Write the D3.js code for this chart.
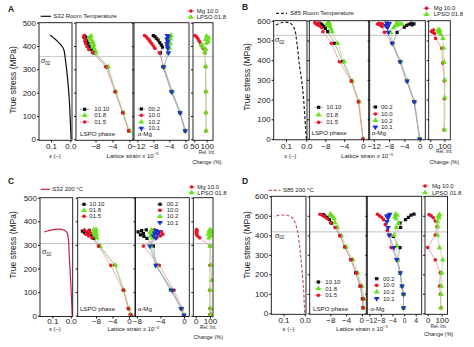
<!DOCTYPE html>
<html lang="en">
<head>
<meta charset="UTF-8">
<title>True stress vs lattice strain</title>
<script src="https://d3js.org/d3.v7.min.js"></script>
<style>
  body { margin: 0; background: #fff; }
  svg { display: block; font-family: "Liberation Sans", Arial, sans-serif; }
</style>
</head>
<body>
<div id="chart"></div>
<script>
// Data. Pairs are [x value, true stress (MPa)].

// ---- A: S32 room temperature ----
const aCurve = [[-0.004,0],[0.0,80],[0.005,168],[0.014,260],[0.024,333],[0.033,383],[0.041,397],[0.055,410],[0.07,423],[0.09,437],[0.105,447]];
const aLspo1010 = [[-0.1,36],[-1.5,114],[-3.3,204],[-5.2,311],[-8.4,371],[-8.9,385],[-9.5,398],[-9.7,410],[-10.0,420],[-10.2,430],[-10.3,438],[-10.6,445]];
const aLspo018 = [[0.0,36],[-1.4,114],[-3.2,204],[-5.0,311],[-7.9,371],[-8.2,385],[-8.6,395],[-8.4,405],[-9.0,412],[-8.7,420],[-9.2,428],[-9.5,436],[-9.0,442]];
const aLspo015 = [[-0.2,36],[-1.6,114],[-3.4,204],[-5.6,311],[-8.7,371],[-9.6,385],[-10.0,398],[-10.3,410],[-10.5,420],[-10.4,428],[-10.8,436],[-10.7,445]];
const aMg002 = [[-0.1,36],[-1.4,114],[-3.5,204],[-5.6,311],[-6.2,371],[-5.7,395],[-6.0,405],[-6.4,415],[-6.8,425],[-7.2,433],[-7.6,440],[-8.0,445]];
const aMg100 = [[0.0,36],[-1.3,114],[-3.3,204],[-5.4,311],[-6.5,371],[-7.6,390],[-8.0,400],[-8.4,410],[-8.8,418],[-9.0,425],[-9.4,432],[-9.8,440],[-10.2,445]];
const aMg102 = [[0.0,36],[-1.2,114],[-3.2,204],[-5.3,311],[-4.3,371],[-4.0,390],[-4.2,400],[-3.8,410],[-4.1,420],[-3.7,430],[-3.9,438],[-3.6,445]];
const aMg101 = [[0.0,36],[-1.3,114],[-3.4,204],[-5.4,311],[-4.2,371],[-4.4,390],[-4.5,400],[-4.6,410],[-4.4,420],[-4.6,430],[-4.3,438],[-4.5,445]];
const aRelMg = [[97,36],[97,114],[96,204],[95,311],[93,371],[86,390],[80,400],[76,410],[70,420],[65,430],[60,438],[53,445]];
const aRelLpso = [[98,36],[97,114],[98,204],[97,311],[92,371],[96,385],[85,395],[78,405],[100,412],[106,420],[96,428],[108,435],[99,442]];

// ---- B: S85 room temperature ----
const bCurve = [[0,0],[0.004,60],[0.013,198],[0.022,290],[0.033,367],[0.046,485],[0.059,561],[0.079,587],[0.113,592],[0.15,578]];
const bLspo1010 = [[0,0],[-0.9,189],[-2.4,294],[-4.3,392],[-6.0,485],[-7.5,544],[-8.0,560],[-8.3,570],[-8.6,578],[-8.9,583],[-9.2,586]];
const bLspo018 = [[0,0],[-0.8,189],[-2.3,294],[-4.0,392],[-5.4,485],[-6.6,544],[-6.8,560],[-7.0,570],[-7.4,576],[-7.1,582],[-7.6,586],[-7.2,590]];
const bLspo015 = [[0,0],[-1.0,189],[-2.5,294],[-5.0,392],[-6.7,485],[-8.5,544],[-8.8,565],[-9.3,575],[-9.7,580],[-10.0,585],[-9.5,588],[-10.2,590]];
const bMg002 = [[0,0],[-1.4,189],[-3.3,294],[-5.0,392],[-7.0,485],[-5.9,541],[-4.0,568],[-3.4,576],[-2.8,582],[-2.2,586],[-1.5,584],[-2.0,579]];
const bMg100 = [[0,0],[-1.5,189],[-3.4,294],[-5.2,392],[-7.2,485],[-9.2,541],[-9.8,570],[-10.4,578],[-11.0,583],[-10.6,587],[-9.8,586],[-10.2,580]];
const bMg102 = [[0,0],[-1.3,189],[-3.2,294],[-5.0,392],[-7.0,485],[-7.6,541],[-6.8,565],[-6.3,575],[-5.8,580],[-5.2,585],[-4.6,583],[-6.0,588]];
const bMg101 = [[0,0],[-1.4,189],[-3.3,294],[-5.1,392],[-7.2,485],[-8.2,541],[-8.4,565],[-8.9,575],[-8.3,580],[-7.9,585],[-8.6,588]];
const bRelMg = [[98,46],[100,205],[100,295],[88,385],[82,460],[38,510],[30,535],[18,540],[8,545],[14,550],[24,553]];
const bRelLpso = [[102,46],[104,210],[103,300],[98,390],[95,462],[90,510],[75,530],[62,540],[58,548],[68,552],[56,555]];

// ---- C: S32 200 °C ----
const cCurve = [[-0.008,0],[-0.002,114],[0.008,256],[0.013,326],[0.022,355],[0.049,366],[0.085,366],[0.122,360],[0.143,355]];
const cLspo1010 = [[0.3,4],[-0.1,30],[-1.3,108],[-3.4,213],[-7.2,295],[-8.5,328],[-8.2,336],[-9.2,342],[-10.0,348],[-10.8,352],[-11.3,358],[-9.6,362]];
const cLspo018 = [[0.4,4],[0.0,30],[-1.2,108],[-3.3,213],[-7.0,295],[-7.8,330],[-8.3,338],[-7.9,345],[-8.5,352],[-8.1,358],[-8.6,363],[-8.0,366]];
const cLspo015 = [[0.5,4],[-0.2,30],[-1.4,108],[-4.4,213],[-7.4,295],[-9.0,330],[-9.8,338],[-10.5,345],[-9.4,350],[-10.2,355],[-9.6,360],[-10.8,363]];
const cMg002 = [[0,2],[-0.4,30],[-2.3,108],[-4.7,213],[-5.2,295],[-6.3,328],[-6.8,336],[-7.4,342],[-6.9,348],[-7.8,355],[-7.2,360],[-6.4,364]];
const cMg100 = [[0,2],[-0.3,30],[-1.7,108],[-4.2,213],[-6.9,295],[-4.6,330],[-4.0,338],[-3.6,345],[-4.3,350],[-3.8,355],[-4.6,360],[-5.0,364]];
const cMg102 = [[0,2],[-0.4,30],[-2.1,108],[-4.6,213],[-5.6,295],[-5.4,330],[-5.7,338],[-5.2,345],[-5.8,352],[-5.3,358],[-5.5,363]];
const cMg101 = [[0,2],[-0.5,30],[-2.0,108],[-4.8,213],[-5.8,295],[-4.8,330],[-5.2,338],[-4.5,345],[-5.0,350],[-4.3,356],[-4.8,361]];
const cRelMg = [[100,5],[100,30],[98,108],[100,213],[100,295],[28,330],[12,338],[5,345],[8,350],[3,355],[10,360],[6,365]];
const cRelLpso = [[108,5],[106,30],[103,108],[112,150],[108,213],[100,295],[92,330],[104,338],[88,345],[100,350],[110,355],[94,360],[102,365]];

// ---- D: S85 200 °C ----
const dCurve = [[0,3],[0.006,130],[0.02,300],[0.035,427],[0.055,486],[0.07,498],[0.088,503],[0.121,503],[0.145,495]];
const dLspo1010 = [[0.2,28],[0.1,74],[-0.5,139],[-1.6,207],[-2.8,275],[-4.3,340],[-5.5,398],[-6.6,440],[-7.7,462],[-8.2,480],[-8.8,492],[-9.4,500],[-9.8,506]];
const dLspo018 = [[0.4,28],[0.5,74],[0.0,139],[-1.1,207],[-2.3,275],[-4.0,340],[-5.2,398],[-6.2,440],[-6.8,465],[-7.0,485],[-7.4,495],[-7.8,502],[-8.0,508]];
const dLspo015 = [[0.3,28],[0.3,74],[-0.3,139],[-1.4,207],[-2.7,275],[-4.4,340],[-5.6,398],[-6.8,440],[-7.9,465],[-8.8,485],[-9.5,495],[-10.0,503],[-10.6,508]];
const dMg002 = [[-0.2,28],[-0.2,97],[-0.8,139],[-1.3,207],[-2.2,274],[-1.4,337],[-3.7,394],[-1.2,440],[-1.4,462],[0.5,480],[1.5,492],[2.4,503],[3.4,508]];
const dMg100 = [[-0.2,28],[-0.2,97],[-0.8,139],[-1.4,207],[-2.3,274],[-4.5,337],[-4.8,401],[-5.8,425],[-6.5,455],[-7.1,480],[-7.8,492],[-8.5,500],[-9.2,508]];
const dMg102 = [[-0.2,28],[-0.2,97],[-0.8,139],[-1.4,207],[-2.3,274],[-2.6,344],[-3.5,401],[-2.7,440],[-2.0,462],[-2.8,485],[-3.2,495],[-2.4,503],[-3.0,508]];
const dMg101 = [[-0.2,28],[-0.2,97],[-0.7,139],[-1.3,207],[-2.6,276],[-3.6,337],[-5.2,401],[-5.5,440],[-5.9,470],[-5.5,490],[-6.0,498],[-5.3,503],[-4.9,508]];
const dRelMg = [[95,28],[90,97],[85,139],[90,207],[54,274],[0,337],[54,401],[66,444],[54,473],[40,490],[25,500],[10,506]];
const dRelLpso = [[92,28],[96,97],[98,139],[100,207],[107,274],[84,337],[71,401],[72,444],[70,470],[80,490],[76,500],[85,506]];

const lspoLabels = ['10.10', '01.8', '01.5'];
const mgLabels = ['00.2', '10.0', '10.2', '10.1'];
const relLabels = ['Mg 10.0', 'LPSO 01.8'];

// marker styles: k = black square, g = green triangle, r = red circle, b = blue triangle down
const COL = { k: '#111', g: '#66e01c', r: '#e8162a', b: '#1f2fd0' };
const TINT = { k: '#a0a0a0', g: '#a8e68e', r: '#ee9098', b: '#95a2e6' };
const SYM = { k: d3.symbolSquare, g: d3.symbolTriangle, r: d3.symbolCircle, b: d3.symbolTriangle };
const FONT = '"Liberation Sans", Arial, sans-serif';

const svg = d3.select('#chart').append('svg').attr('width', 474).attr('height', 347);
svg.append('rect').attr('width', 474).attr('height', 347).attr('fill', '#fff');

function dot(g, kind, x, y) {
  g.append('path')
    .attr('d', d3.symbol(SYM[kind], kind === 'g' || kind === 'b' ? 13 : 10.5)())
    .attr('transform', `translate(${x},${y})` + (kind === 'b' ? ' rotate(180)' : ''))
    .attr('fill', COL[kind]);
}

function txt(x, y, s, size, anchor) {
  return svg.append('text').attr('x', x).attr('y', y).attr('font-size', size)
    .attr('fill', '#222').attr('text-anchor', anchor || 'start').text(s);
}

function legendRow(g, kind, x0, x1, y, tx, label) {
  g.append('line').attr('x1', x0).attr('x2', x1).attr('y1', y).attr('y2', y)
    .attr('stroke', TINT[kind]).attr('stroke-width', 0.9);
  dot(g, kind, (x0 + x1) / 2, y);
  txt(tx, y + 2.1, label, 6);
}

// panel layouts (page pixels)
const panels = [
  { id: 'A', letter: [8, 12], ylab: [16, 80],
    y: { zero: 139.3, max: 500, maxPx: 22.7, bot: 140.3, ticks: [0, 100, 200, 300, 400, 500] },
    tickBase: 149, titleBase: 157.5, epsX: 55, latX: 132.5, rel: [207, 153.6, 163.5],
    sigma: 355, sigmaLab: [41, 63],
    curve: { data: aCurve, color: '#111', dash: null, text: 'S32 Room Temperature', lx: [40.7, 51], ly: 16.3, tx: 53.3 },
    relLeg: { ys: [11, 17.2], lx: [186.7, 195], tx: 196.7 },
    sub: [
      { x0: 39, x1: 72, ref: [[0.1, 51], [0, 70.3]], ticks: [0.1, 0.0] },
      { x0: 76, x1: 133, ref: [[-8, 95.5], [0, 129.4]], ticks: [-8, -4, 0] },
      { x0: 134, x1: 189, ref: [[-12, 137.3], [0, 185.3]], ticks: [-12, -8, -4, 0], firstDx: 0.8 },
      { x0: 193, x1: 213, ref: [[50, 194.3], [100, 206.7]], ticks: [50, 100] }],
    lspo: [aLspo1010, aLspo018, aLspo015], mg: [aMg002, aMg100, aMg102, aMg101], relData: [aRelMg, aRelLpso],
    leg2: { ys: [109.3, 115.3, 122], lx: [80, 89.3], tx: 94.3, phase: [80, 135.5] },
    leg3: { ys: [109, 115.3, 122, 128.3], lx: [137.7, 145], tx: 148.3, phase: [137.7, 135.5] } },
  { id: 'B', letter: [242, 10], ylab: [250, 77],
    y: { zero: 139, max: 600, maxPx: 20.7, bot: 139.8, ticks: [0, 100, 200, 300, 400, 500, 600] },
    tickBase: 148.7, titleBase: 157.8, epsX: 290.3, latX: 367, rel: [444.3, 153.4, 163.6],
    sigma: 526, sigmaLab: [275, 42],
    curve: { data: bCurve, color: '#222', dash: '3,2', text: 'S85 Room Temperature', lx: [276, 287], ly: 13.3, tx: 290.3 },
    relLeg: { ys: [8.3, 14.3], lx: [422.7, 430.3], tx: 433.7 },
    sub: [
      { x0: 273.7, x1: 307, ref: [[0.1, 286], [0, 306.3]], ticks: [0.1, 0.0] },
      { x0: 309.3, x1: 368.7, ref: [[-8, 325.3], [0, 363]], ticks: [-8, -4, 0] },
      { x0: 369.7, x1: 425.3, ref: [[-12, 373.7], [0, 419.7]], ticks: [-12, -8, -4, 0] },
      { x0: 428.7, x1: 450.3, ref: [[0, 430.3], [100, 444.3]], ticks: [0, 100] }],
    lspo: [bLspo1010, bLspo018, bLspo015], mg: [bMg002, bMg100, bMg102, bMg101], relData: [bRelMg, bRelLpso],
    leg2: { ys: [107.3, 115, 122.3], lx: [314.3, 323], tx: 326.3, phase: [311.5, 135] },
    leg3: { ys: [107, 114, 120.5, 127], lx: [372, 378.7], tx: 381, phase: [371.7, 135] } },
  { id: 'C', letter: [8, 184], ylab: [16, 245],
    y: { zero: 315.7, max: 500, maxPx: 197.7, bot: 316.5, ticks: [0, 100, 200, 300, 400, 500] },
    tickBase: 324.3, titleBase: 331, epsX: 55, latX: 133.3, rel: [208.3, 329, 338.5],
    sigma: 305, sigmaLab: [42, 254],
    curve: { data: cCurve, color: '#c8203e', dash: null, text: 'S32 200 °C', lx: [40.7, 50], ly: 189.3, tx: 52.3 },
    relLeg: { ys: [187, 192.7], lx: [188.3, 195], tx: 197.3 },
    sub: [
      { x0: 40, x1: 72.7, ref: [[0.1, 52.3], [0, 70.7]], ticks: [0.1, 0.0] },
      { x0: 77.7, x1: 135, ref: [[-8, 96], [0, 129]], ticks: [-8, -4, 0] },
      { x0: 135.5, x1: 189.3, ref: [[-8, 136.9], [0, 184]], ticks: [-8, -4, 0] },
      { x0: 193.3, x1: 213, ref: [[0, 195.7], [100, 210]], ticks: [0, 100] }],
    lspo: [cLspo1010, cLspo018, cLspo015], mg: [cMg002, cMg100, cMg102, cMg101], relData: [cRelMg, cRelLpso],
    leg2: { ys: [204.3, 210.3, 216.3], lx: [80.7, 87.3], tx: 89.3, phase: [80, 311] },
    leg3: { ys: [204.3, 210.3, 216.3, 222.7], lx: [156.7, 163.3], tx: 166.7, phase: [137.7, 311] } },
  { id: 'D', letter: [242, 184], ylab: [250, 245],
    y: { zero: 313.3, max: 600, maxPx: 196.3, bot: 314.3, ticks: [0, 100, 200, 300, 400, 500, 600] },
    tickBase: 323, titleBase: 330.5, epsX: 288.7, latX: 362, rel: [438.7, 327.8, 336],
    sigma: 418, sigmaLab: [275, 237.5],
    curve: { data: dCurve, color: '#c8506c', dash: '3,2', text: 'S85 200 °C', lx: [268.7, 280.3], ly: 190.3, tx: 283 },
    relLeg: { ys: [186, 192.7], lx: [421.3, 428.7], tx: 432 },
    sub: [
      { x0: 271.3, x1: 306, ref: [[0.1, 283.5], [0, 304.7]], ticks: [0.1, 0.0] },
      { x0: 309.7, x1: 366.3, ref: [[-8, 330.3], [0, 362]], ticks: [-8, -4, 0], lastDx: -0.8 },
      { x0: 367.3, x1: 421.7, ref: [[-12, 369.3], [4, 415.7]], ticks: [-12, -8, -4, 0, 4], firstDx: 1.6, size: 6.8 },
      { x0: 425, x1: 447.5, ref: [[0, 427.7], [100, 441.7]], ticks: [0, 100] }],
    lspo: [dLspo1010, dLspo018, dLspo015], mg: [dMg002, dMg100, dMg102, dMg101], relData: [dRelMg, dRelLpso],
    leg2: { ys: [282, 288.7, 295.3], lx: [314.7, 322], tx: 325.3, phase: [313, 311] },
    leg3: { ys: [278.7, 285.3, 292, 298.7], lx: [373.7, 379.7], tx: 383, phase: [370.3, 311] } }
];

function drawPanel(p) {
  const g = svg.append('g');
  const y = d3.scaleLinear().domain([0, p.y.max]).range([p.y.zero, p.y.maxPx]);
  const top = p.y.maxPx, bot = p.y.bot;
  const xs = p.sub.map(s => d3.scaleLinear().domain([s.ref[0][0], s.ref[1][0]]).range([s.ref[0][1], s.ref[1][1]]));

  p.sub.forEach((s, i) => {
    svg.append('clipPath').attr('id', `clip${p.id}${i}`).append('rect')
      .attr('x', s.x0).attr('y', top).attr('width', s.x1 - s.x0).attr('height', bot - top);
  });

  // sigma 0.2 level across all layers
  g.append('line').attr('x1', p.sub[0].x0).attr('x2', p.sub[3].x1)
    .attr('y1', y(p.sigma)).attr('y2', y(p.sigma)).attr('stroke', '#cdcdcd').attr('stroke-width', 1.2);

  // stress-strain curve
  g.append('g').attr('clip-path', `url(#clip${p.id}0)`).append('path').datum(p.curve.data)
    .attr('d', d3.line().x(d => xs[0](d[0])).y(d => y(d[1])).curve(d3.curveCatmullRom))
    .attr('fill', 'none').attr('stroke', p.curve.color).attr('stroke-width', 1.2)
    .attr('stroke-dasharray', p.curve.dash);

  const layers = [
    [1, p.lspo, ['k', 'g', 'r']],
    [2, p.mg, ['k', 'r', 'g', 'b']],
    [3, p.relData, ['r', 'g']]];
  layers.forEach(([i, list, kinds]) => {
    const sg = g.append('g').attr('clip-path', `url(#clip${p.id}${i})`);
    const ln = d3.line().x(d => xs[i](d[0])).y(d => y(d[1]));
    list.forEach((data, k) => sg.append('path').datum(data).attr('d', ln)
      .attr('fill', 'none').attr('stroke', TINT[kinds[k]]).attr('stroke-width', 0.8));
    list.forEach((data, k) => data.forEach(d => dot(sg, kinds[k], xs[i](d[0]), y(d[1]))));
  });

  // frames and axes
  p.sub.forEach((s, i) => {
    g.append('rect').attr('x', s.x0).attr('y', top).attr('width', s.x1 - s.x0).attr('height', bot - top)
      .attr('fill', 'none').attr('stroke', '#111').attr('stroke-width', 0.9);
    const fs = s.size || 8;
    const ax = g.append('g').attr('transform', `translate(0,${bot})`)
      .call(d3.axisBottom(xs[i]).tickValues(s.ticks).tickSize(2)
        .tickPadding(p.tickBase - bot - 2 - 0.71 * fs)
        .tickFormat(i === 0 ? d3.format('.1f') : d3.format('d')));
    ax.select('.domain').remove();
    ax.attr('font-family', FONT).attr('font-size', fs).attr('color', '#111');
    const labels = ax.selectAll('text').attr('fill', '#222');
    if (s.firstDx) labels.filter((d, k) => k === 0).attr('dx', s.firstDx);
    if (s.lastDx) labels.filter((d, k) => k === s.ticks.length - 1).attr('dx', s.lastDx);
    const ay = g.append('g').attr('transform', `translate(${s.x0},0)`)
      .call(d3.axisLeft(y).tickValues(p.y.ticks).tickSize(2).tickPadding(1)
        .tickFormat(i === 0 ? d3.format('d') : ''));
    ay.select('.domain').remove();
    ay.attr('font-family', FONT).attr('font-size', 8).attr('color', '#111');
    ay.selectAll('text').attr('fill', '#222');
  });

  // texts
  txt(p.letter[0], p.letter[1], p.id, 8.5).attr('font-weight', 'bold');
  txt(p.ylab[0], p.ylab[1], 'True stress (MPa)', 8.5, 'middle')
    .attr('transform', `rotate(-90,${p.ylab[0]},${p.ylab[1]})`);
  const sg = txt(p.sigmaLab[0], p.sigmaLab[1], 'σ', 7);
  sg.append('tspan').attr('dy', 1.5).attr('font-size', 4.5).text('02');
  txt(p.epsX, p.titleBase, 'ε (–)', 6, 'middle');
  const lt = txt(p.latX, p.titleBase, 'Lattice strain x 10', 6, 'middle');
  lt.append('tspan').attr('dy', -2.2).attr('font-size', 4.2).text('−3');
  txt(p.rel[0], p.rel[1], 'Rel. Int.', 4.8, 'middle');
  txt(p.rel[0], p.rel[2], 'Change (%)', 5.5, 'middle');

  // curve legend
  g.append('line').attr('x1', p.curve.lx[0]).attr('x2', p.curve.lx[1])
    .attr('y1', p.curve.ly).attr('y2', p.curve.ly).attr('stroke', p.curve.color)
    .attr('stroke-width', 1.2).attr('stroke-dasharray', p.curve.dash);
  txt(p.curve.tx, p.curve.ly + 2.1, p.curve.text, 6);

  // legends
  ['r', 'g'].forEach((k, j) => legendRow(g, k, p.relLeg.lx[0], p.relLeg.lx[1], p.relLeg.ys[j], p.relLeg.tx, relLabels[j]));
  ['k', 'g', 'r'].forEach((k, j) => legendRow(g, k, p.leg2.lx[0], p.leg2.lx[1], p.leg2.ys[j], p.leg2.tx, lspoLabels[j]));
  ['k', 'r', 'g', 'b'].forEach((k, j) => legendRow(g, k, p.leg3.lx[0], p.leg3.lx[1], p.leg3.ys[j], p.leg3.tx, mgLabels[j]));
  txt(p.leg2.phase[0], p.leg2.phase[1], 'LSPO phase', 6.2);
  txt(p.leg3.phase[0], p.leg3.phase[1], 'α-Mg', 6.2);
}

panels.forEach(drawPanel);
</script>
</body>
</html>
